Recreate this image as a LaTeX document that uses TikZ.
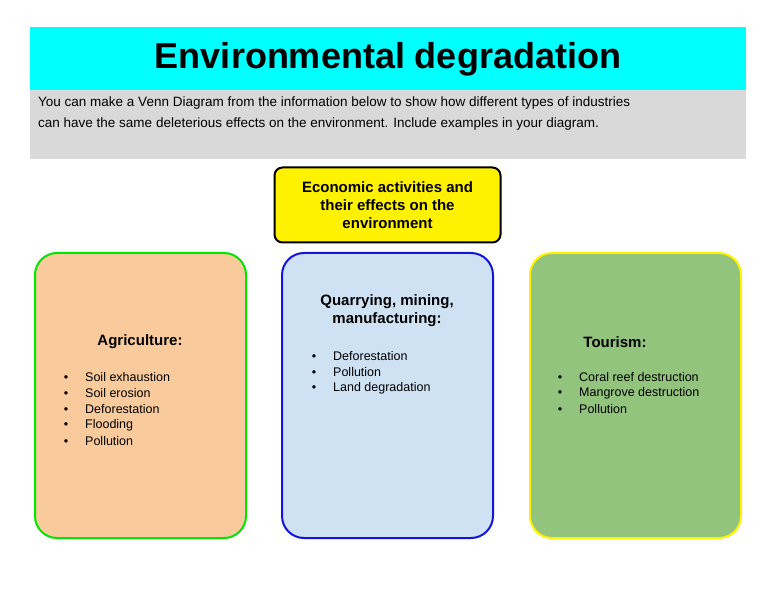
\documentclass[tikz,border=0pt]{standalone}
\usepackage{fontspec}
\setmainfont{Liberation Sans}
\definecolor{bannercyan}{HTML}{00FFFF}
\definecolor{notegray}{HTML}{D9D9D9}
\definecolor{agrifill}{HTML}{F9CB9C}
\definecolor{quarryfill}{HTML}{CFE2F3}
\definecolor{tourfill}{HTML}{93C47D}
\tikzset{
  sectorbox/.style={rounded corners=22pt, line width=2pt, minimum width=211pt, minimum height=285pt, anchor=north west},
  headtext/.style={font=\bfseries\fontsize{15}{18}\selectfont, align=center},
  itemtext/.style={font=\fontsize{12.5}{15}\selectfont, anchor=west, inner sep=0pt}
}
\begin{document}
\begin{tikzpicture}[x=1pt,y=-1pt]
\useasboundingbox (0,0) rectangle (768,593);
\fill[white] (0,0) rectangle (768,593);
% banner and note
\fill[bannercyan] (30,27) rectangle (746,90);
\node[font=\bfseries\fontsize{36}{40}\selectfont] (title) at (388,59) {Environmental degradation};
\fill[notegray] (30,90) rectangle (746,159);
\node[anchor=north west, align=left, font=\fontsize{13.5}{21}\selectfont, inner sep=0pt] (note) at (38,97)
  {You can make a Venn Diagram from the information below to show how different types of industries\\
   can have the same deleterious effects on the environment. Include examples in your diagram.};
% heading
\node[draw, fill=yellow, rounded corners=8pt, line width=2pt, minimum width=226pt, minimum height=75pt, headtext] (heading) at (387.5,205)
  {Economic activities and\\their effects on the\\environment};
% three sectors
\node[sectorbox, draw={rgb,255:red,0;green,230;blue,0}, fill=agrifill] (agri) at (34,252) {};
\node[sectorbox, draw={rgb,255:red,20;green,20;blue,220}, fill=quarryfill] (quarry) at (281,252) {};
\node[sectorbox, draw=yellow, fill=tourfill] (tour) at (529,252) {};
\node[headtext] (agrihead) at (140,342) {Agriculture:};
\node[headtext] (quarryhead) at (387,311) {Quarrying, mining,\\manufacturing:};
\node[headtext] (tourhead) at (615,342) {Tourism:};
\foreach \t [count=\i] in {Soil exhaustion,Soil erosion,Deforestation,Flooding,Pollution}
  \node[itemtext] (agri\i) at (85,361+16*\i) {\llap{\textbullet\hspace{17pt}}\t};
\foreach \t [count=\i] in {Deforestation,Pollution,Land degradation}
  \node[itemtext] (quarry\i) at (333,340+16*\i) {\llap{\textbullet\hspace{17pt}}\t};
\foreach \t [count=\i] in {Coral reef destruction,Mangrove destruction,Pollution}
  \node[itemtext] (tour\i) at (579,361+16*\i) {\llap{\textbullet\hspace{17pt}}\t};
\end{tikzpicture}
\end{document}
